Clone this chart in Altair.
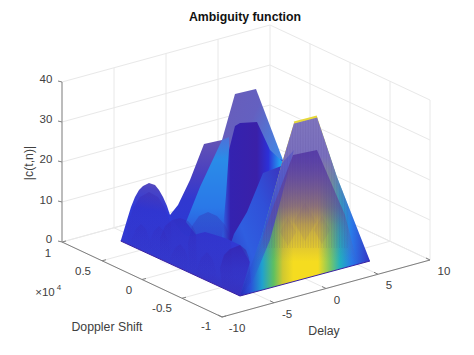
import altair as alt
import numpy as np
import pandas as pd

# ---------- axis content ----------
delay_ticks = [-10, -5, 0, 5, 10]
doppler_ticks = [-1, -0.5, 0, 0.5, 1]
z_ticks = [0, 10, 20, 30, 40]

ORIGIN = (222, 317)
DELAY_UNIT = (10.4, -2.85)
DOPPLER_UNIT = (-80, -37.5)
Z_UNIT = -4.0


def P(delay, doppler, z=0):
    a = delay + 10
    b = doppler + 1
    return (ORIGIN[0] + a * DELAY_UNIT[0] + b * DOPPLER_UNIT[0],
            ORIGIN[1] + a * DELAY_UNIT[1] + b * DOPPLER_UNIT[1] + z * Z_UNIT)


# ---------- surface outlines (projected plane) ----------
core_h = [170, 205, 230, 283, 285, 240, 200]
core_v = [240, 200, 150, 160, 240, 296, 270]

back_h = [222, 235, 256, 283, 290, 240, 205]
back_v = [140, 94, 89, 160, 205, 240, 225]

left_peak_h = [170, 178, 190, 204, 222, 228, 224, 215, 205, 170]
left_peak_v = [215, 205, 180, 144, 140, 140, 190, 230, 250, 250]

azure_h = [222, 229, 229, 228, 224, 205, 186, 200]
azure_v = [140, 137, 165, 195, 240, 246, 222, 187]

dark_h = [235, 240, 257, 270, 283, 270, 250, 232, 222, 226, 229]
dark_v = [126, 123, 122, 150, 162, 215, 255, 262, 240, 195, 150]

shoulder_h = [263, 284, 268, 252, 240, 222, 226, 234, 247]
shoulder_v = [173, 165, 225, 268, 296, 282, 258, 234, 212]

face_h = [294, 317, 337, 370, 240, 262, 282]
face_v = [123, 117, 177, 261, 296, 235, 163]

lside_h = [282, 294, 282, 270, 250, 240, 262]
lside_v = [163, 150, 195, 240, 288, 296, 235]

shell_h = [293, 317, 345, 358, 245, 262, 273]
shell_v = [155, 150, 215, 266, 295, 240, 207]

yellow_h = [294, 317]
yellow_v = [122.5, 116.5]

diamonds = [
    ([305, 316, 305, 294], [203, 222, 241, 222]),
    ([288, 296, 288, 280], [218, 232, 246, 232]),
    ([322, 330, 322, 314], [216, 230, 244, 230]),
]

wall_h = [120.7, 124, 127, 131, 135, 139, 143, 149, 155, 159, 163, 167, 170,
          176, 181, 187, 193, 197, 205, 212, 225, 240, 250, 240]
wall_v = [241, 230, 220, 207, 197, 190, 186, 183, 185, 190, 197, 206, 215,
          224, 232, 236, 236, 234, 232, 234, 238, 245, 262, 296]

# arches of the scalloped side (one list per arch)
arches = [
    ([127, 133, 140, 149, 158, 165, 171, 172, 128], [226, 208, 197, 192, 197, 208, 224, 255, 248], 0.28),
    ([131, 136, 141, 146, 149, 152, 153, 133], [240, 229, 224, 229, 238, 246, 252, 248], 0.16),
    ([150, 154, 159, 164, 168, 170, 170, 150], [240, 231, 226, 231, 240, 250, 258, 256], 0.16),
    ([160, 165, 172, 180, 188, 193, 196, 197, 160], [238, 226, 220, 218, 221, 227, 233, 275, 262], 0.3),
    ([170, 175, 180, 185, 188, 189, 171], [258, 248, 244, 250, 258, 276, 268], 0.16),
    ([188, 192, 199, 208, 217, 225, 231, 233, 190], [243, 226, 216, 212, 216, 225, 238, 288, 274], 0.3),
    ([196, 201, 207, 212, 216, 217, 197], [272, 258, 252, 258, 270, 288, 278], 0.16),
    ([220, 224, 230, 240, 246, 249, 251, 241, 222], [268, 255, 249, 245, 250, 258, 282, 296, 286], 0.6),
]

INK = "#404040"
GRID = "#e8e8e8"
AXIS = "#7f7f7f"

W, H = 458, 339
X = alt.X("h:Q", scale=alt.Scale(domain=[8, 8 + W], nice=False, zero=False), axis=None)
Y = alt.Y("v:Q", scale=alt.Scale(domain=[8 + H, 8], nice=False, zero=False), axis=None)


def grad(stops, x1=0, y1=0, x2=1, y2=0):
    return alt.Gradient(gradient="linear",
                        stops=[alt.GradientStop(offset=o, color=c) for o, c in stops],
                        x1=x1, y1=y1, x2=x2, y2=y2)


def poly(hs, vs, fill):
    df = pd.DataFrame({"h": hs, "v": vs, "i": list(range(len(hs)))})
    return alt.Chart(df).mark_line(interpolate="linear-closed", fill=fill,
                                   strokeWidth=0, clip=False).encode(
        x=X, y=Y, order=alt.Order("i:Q"))


def seg(pairs, color, width, opacity=1):
    rows = [{"h": a[0], "v": a[1], "h2": b[0], "v2": b[1]} for a, b in pairs]
    return alt.Chart(pd.DataFrame(rows)).mark_rule(color=color, strokeWidth=width, opacity=opacity).encode(
        x=X, y=Y, x2="h2:Q", y2="v2:Q")


def label(items, size=11.5, weight="normal", angle=0, color=INK):
    df = pd.DataFrame([{"h": a, "v": b, "t": t} for a, b, t in items])
    return alt.Chart(df).mark_text(font="Liberation Sans", fontSize=size, fontWeight=weight,
                                   color=color, angle=angle, align="center",
                                   baseline="middle").encode(x=X, y=Y, text="t:N")


# ---------- grid and axes ----------
grid_pairs = []
for d in delay_ticks:
    grid_pairs.append((P(d, -1), P(d, 1)))
    if d > -10:
        grid_pairs.append((P(d, 1), P(d, 1, 40)))
for s in doppler_ticks:
    grid_pairs.append((P(-10, s), P(10, s)))
    if s < 1:
        grid_pairs.append((P(10, s), P(10, s, 40)))
for z in z_ticks:
    grid_pairs.append((P(-10, 1, z), P(10, 1, z)))
    grid_pairs.append((P(10, 1, z), P(10, -1, z)))
grid = seg(grid_pairs, GRID, 1)

axis_pairs = [(P(-10, -1), P(-10, 1)), (P(-10, -1), P(10, -1))]
for d in delay_ticks:
    a = P(d, -1)
    axis_pairs.append((a, (a[0] - 4, a[1] - 2)))
for s in doppler_ticks:
    a = P(-10, s)
    axis_pairs.append((a, (a[0] + 4, a[1] - 1)))
axis_lines = seg(axis_pairs, AXIS, 1)
z_axis = seg([(P(-10, 1, 0), P(-10, 1, 40))], "#a0a0a0", 1.4)
z_tick_marks = seg([(P(-10, 1, z), (P(-10, 1, z)[0] - 4, P(-10, 1, z)[1] - 1)) for z in z_ticks], "#808080", 1)

labels = label([
    (46, 80, "40"), (46, 120, "30"), (46, 160, "20"), (46, 201, "10"), (49, 240, "0"),
    (48, 254, "1"), (83, 272, "0.5"), (129, 291, "0"), (162, 309, "-0.5"), (206, 327, "-1"),
    (237, 329, "-10"), (287, 315, "-5"), (337, 301, "0"), (389, 286, "5"), (444, 272, "10"),
    (45, 293, "\u00d710"),
])
sup = label([(59, 288, "4")], size=8)
titles = label([(107, 327, "Doppler Shift"), (324, 331, "Delay")], size=12.3)
ylab = label([(29, 163, "|c(t,n)|")], size=12.3, angle=270)
title = label([(245, 17, "Ambiguity function")], size=12.3, weight="bold", color="#111111")

# mesh lines visible on the front peak
stripe_pairs = []
for sx in np.arange(264.0, 348.0, 2.6):
    if sx < 282:
        top = np.interp(sx, [262, 282], [235, 163])
    elif sx < 294:
        top = np.interp(sx, [282, 294], [163, 123])
    elif sx < 317:
        top = np.interp(sx, [294, 317], [123, 117])
    else:
        top = np.interp(sx, [317, 337, 370], [117, 177, 261])
    stripe_pairs.append(((sx, top + 1), (sx, 248)))

# ---------- surface ----------
layers = [
    grid, axis_lines, z_axis, z_tick_marks,
    poly(back_h, back_v, grad([(0, "#6a5cb8"), (0.45, "#6460c0"), (0.8, "#3f8ae8"), (1, "#20a8f0")], 0, 0, 1, 0.75)),
    poly(core_h, core_v, "#2c3ad6"),
    poly(left_peak_h, left_peak_v, grad([(0, "#6353b5"), (0.3, "#4a40c0"), (0.55, "#3038d0"), (1, "#2c3ad6")], 0.5, 0, 0.5, 1)),
    poly(azure_h, azure_v, grad([(0, "#4f70d8"), (0.2, "#2a8ce8"), (0.65, "#2a78e8"), (1, "#2f48d8")], 0.5, 0, 0.5, 1)),
    poly(dark_h, dark_v, grad([(0, "#2c6ae8"), (0.14, "#3422b0"), (0.57, "#3a20a8"), (0.76, "#2c30d8"), (0.94, "#2498ee"), (1, "#20a8f0")])),
    poly(shoulder_h, shoulder_v, grad([(0, "#2a2ab8"), (0.4, "#2f5ee0"), (0.7, "#3050d8"), (1, "#3a36c0")], 0, 0.9, 1, 0.1)),
    poly(face_h, face_v, grad([(0, "#2b2ab8"), (0.08, "#2a50d8"), (0.17, "#1fa0d0"), (0.26, "#5fc060"),
                               (0.33, "#d0c830"), (0.41, "#f5dc20"), (0.6, "#f5dc20"), (0.69, "#80c860"),
                               (0.77, "#20b0c0"), (0.86, "#2a78e8"), (1, "#3434c4")])),
    poly(face_h, face_v, grad([(0, "rgba(128,118,190,1)"), (0.22, "rgba(122,112,190,1)"),
                               (0.5, "rgba(110,100,190,0.25)"), (0.6, "rgba(110,100,190,0)"), (1, "rgba(110,100,190,0)")], 0, 0, 0, 1)),
    poly(lside_h, lside_v, grad([(0, "rgba(100,95,195,1)"), (0.5, "rgba(60,85,210,1)"), (1, "rgba(40,80,215,0)")], 0, 0, 0, 1)),
    poly(shell_h, shell_v, grad([(0, "rgba(88,62,168,1)"), (0.05, "rgba(88,62,168,0.95)"), (0.39, "rgba(100,70,150,0.62)"),
                                 (0.57, "rgba(110,80,140,0.28)"), (0.77, "rgba(110,80,140,0)"), (1, "rgba(110,80,140,0)")], 0, 0, 0, 1)),
    seg(stripe_pairs, "#4a3a8a", 0.7, 0.16),
    seg([((yellow_h[0], yellow_v[0]), (yellow_h[1], yellow_v[1]))], "#e6d83c", 2),
    poly(wall_h, wall_v, grad([(0, "#6a58b4"), (0.12, "#4a44c4"), (0.3, "#2f3ad8"), (0.75, "#3438cc"), (1, "#3a2cb4")], 0.6, 0, 0.4, 1)),
]
for hs, vs in diamonds:
    layers.append(poly(hs, vs, "rgba(110,80,130,0.09)"))
for hs, vs, a in arches:
    layers.append(poly(hs, vs, grad([(0, f"rgba(55,30,165,{a})"), (0.45, f"rgba(55,30,165,{a * 0.35})"), (1, "rgba(55,30,165,0)")], 0, 0, 0, 1)))
layers.append(seg([((120.7, 241), (240, 296)), ((240, 296), (370, 261))], "#3a20a0", 1))
layers += [labels, sup, titles, ylab, title]

chart = alt.layer(*layers).properties(
    width=W, height=H, padding=0, autosize=alt.AutoSizeParams(type="none")
).configure_view(stroke=None)

chart.save("out.html", embed_options={"renderer": "svg", "actions": False})
